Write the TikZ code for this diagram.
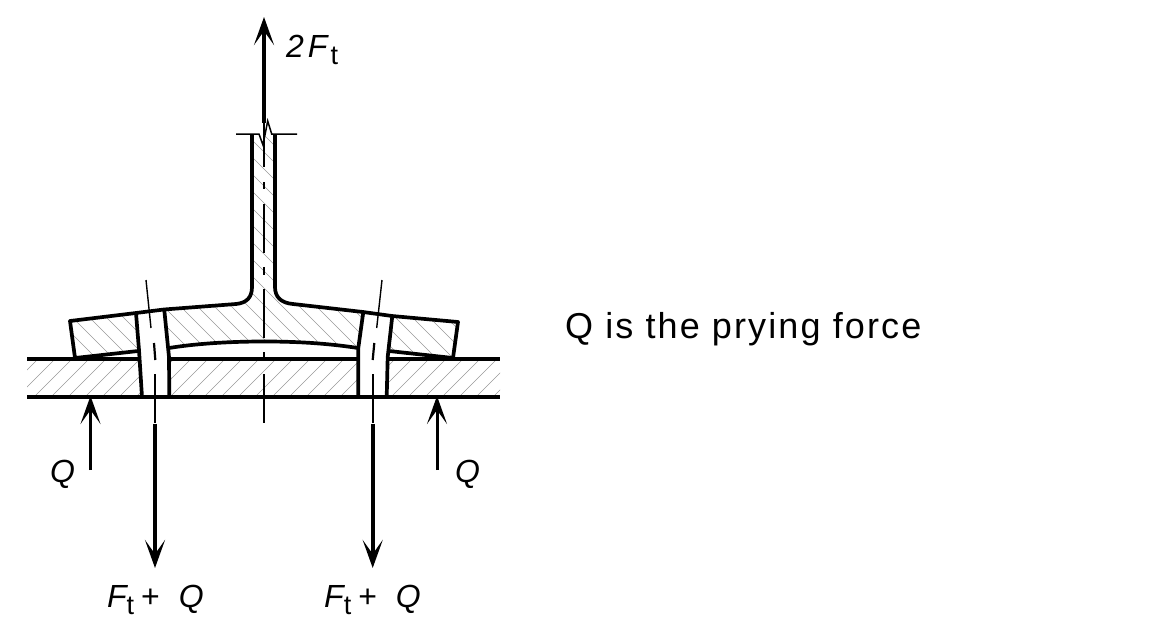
\documentclass[tikz,border=0pt]{standalone}
\usepackage{fontspec}
\setmainfont[LetterSpace=5.9]{Liberation Sans}
\newfontfamily\lblfont[LetterSpace=2]{Liberation Sans}
\usetikzlibrary{arrows.meta}
\newcommand{\subtee}{{\fontsize{27}{27}\selectfont\upshape\raisebox{-7.5pt}{t}}}
\newcommand{\plusgap}{\hspace{7pt}{\upshape\fontsize{32}{34}\selectfont +}\hspace{19pt}}
\tikzset{
 thickline/.style={line width=3.7pt,line join=round},
 thinline/.style={line width=2.2pt},
 hatchline/.style={line width=0.65pt,draw=black!40},
 forcearrow/.style={line width=3.7pt,-{Stealth[length=28pt,width=20pt,inset=14pt]}},
 smallarrow/.style={line width=3pt,-{Stealth[length=28pt,width=20pt,inset=14pt]}},
 lbl/.style={font=\lblfont\fontsize{32}{34}\selectfont\itshape,inner sep=0pt,anchor=base west},
 note/.style={font=\fontsize{36}{40}\selectfont,inner sep=0pt,anchor=base west}
}
\begin{document}
\begin{tikzpicture}[x=1pt,y=-1pt]
\useasboundingbox (0,0) rectangle (1168,637);
\def\flangepath{(70,321) -- (136,313) -- (164,309.5) -- (236,304) .. controls (247,303) and (252,297) .. (252,287) -- (252,134) -- (275,134) -- (275,287) .. controls (275,297) and (281,303) .. (293,304) -- (363,312) -- (392,316) -- (458,322) -- (453,358) -- (389,351) -- (358,348) .. controls (325,343) and (295,341.5) .. (264,341.5) .. controls (235,341.5) and (200,343) .. (169,348) -- (138,351) -- (75,358) -- cycle}
% hatching: flange
\begin{scope}
\clip \flangepath;
\foreach \k in {-400,-383,...,500}
  \draw[hatchline] (\k,100) -- (\k+300,400);
\end{scope}
% hatching: plate
\begin{scope}
\clip (27,359) rectangle (500,397);
\foreach \k in {0,17,...,600}
  \draw[hatchline] (\k,397) -- (\k+38,359);
\end{scope}
% bolt masks
\fill[white] (136,313) -- (164.3,310) -- (169,357) -- (169.3,396) -- (141.7,396) -- (139,350) -- cycle;
\fill[white] (363.3,311) -- (392.3,315) -- (387.7,357) -- (386.7,396) -- (358.3,396) -- (358.3,348) -- cycle;
% stem and flange outlines
\draw[thickline] (75,358) -- (70,321) -- (136,313) -- (164,309.5) -- (236,304) .. controls (247,303) and (252,297) .. (252,287) -- (252,134);
\draw[thickline] (275,134) -- (275,287) .. controls (275,297) and (281,303) .. (293,304) -- (363,312) -- (392,316) -- (458,322) -- (453,358);
\draw[thickline] (75,358) -- (138,351);
\draw[thickline] (169,348) .. controls (200,343) and (235,341.5) .. (264,341.5) .. controls (295,341.5) and (325,343) .. (358,348);
\draw[thickline] (389,351) -- (453,358);
% plate
\draw[thickline] (27,359) -- (139,359) (169,359) -- (358,359) (388,359) -- (500,359);
\draw[thickline] (27,397) -- (500,397);
% bolts
\draw[thickline] (136,313) -- (139,350) -- (142,397);
\draw[thickline] (164.3,310) -- (169,357) -- (169.3,397);
\draw[thickline] (363.3,312) -- (358.3,348) -- (358.3,397);
\draw[thickline] (392.3,316) -- (387.7,357) -- (386.7,397);
% centre lines
\draw[line width=1.4pt] (146,280) -- (151,328);
\draw[thinline] (154,343) -- (155.3,360);
\draw[thinline] (155,374) -- (155,423);
\draw[line width=1.4pt] (382,280) -- (376.7,328);
\draw[thinline] (374.3,343) -- (372.7,360);
\draw[thinline] (372.7,374) -- (372.7,423);
\draw[thinline] (264,123) -- (264,167);
\draw[thinline] (264,182) -- (264,189);
\draw[thinline] (264,204) -- (264,253);
\draw[thinline] (264,267) -- (264,275);
\draw[thinline] (264,289) -- (264,338);
\draw[thinline] (264,352) -- (264,359);
\draw[thinline] (264,374) -- (264,423);
% break line
\draw[line width=1.5pt] (236,134) -- (259,134) -- (263,145) -- (267.7,121) -- (271.7,134) -- (297,134);
% force arrows
\coordinate (topS) at (264,123); \coordinate (topE) at (264,17);
\coordinate (lS) at (155,424); \coordinate (lE) at (155,568);
\coordinate (rS) at (372.7,424); \coordinate (rE) at (372.7,568);
\coordinate (qlS) at (90.5,470); \coordinate (qlE) at (90.5,396);
\coordinate (qrS) at (437,470); \coordinate (qrE) at (437,396);
\draw[forcearrow] (topS) -- (topE);
\draw[forcearrow] (lS) -- (lE);
\draw[forcearrow] (rS) -- (rE);
\draw[smallarrow] (qlS) -- (qlE);
\draw[smallarrow] (qrS) -- (qrE);
% labels
\node[lbl] (t2f) at (286,57) {2\hspace{4pt}F\hspace{3pt}\subtee};
\node[lbl] (tql) at (50,482) {Q};
\node[lbl] (tqr) at (455,482) {Q};
\node[lbl] (tfl) at (107,607) {F\subtee\plusgap Q};
\node[lbl] (tfr) at (324,607) {F\subtee\plusgap Q};
\node[note] (tn) at (565,338) {Q is the prying force};
\end{tikzpicture}
\end{document}
